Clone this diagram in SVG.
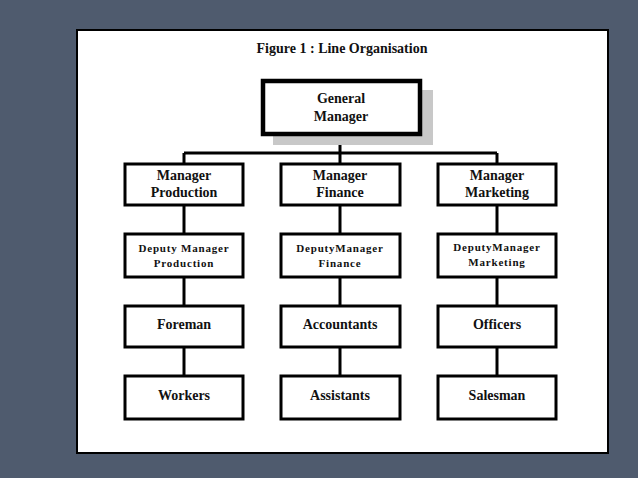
<svg xmlns="http://www.w3.org/2000/svg" width="638" height="478" viewBox="0 0 638 478">
<style>
.b{fill:#fff;stroke:#000;stroke-width:3}
.t{font-family:"Liberation Serif",serif;font-weight:bold;fill:#111;text-anchor:middle;font-size:14px}
.s{font-size:11px;letter-spacing:0.8px}
.c line{stroke:#000;stroke-width:3}
</style>
<rect width="638" height="478" fill="#4f5b6e"/>
<rect x="77" y="30" width="531" height="423" fill="#fff" stroke="#000" stroke-width="2"/>
<text class="t" x="342" y="53" font-size="14">Figure 1 : Line Organisation</text>
<g class="c">
<line x1="340" y1="134" x2="340" y2="375"/>
<line x1="184" y1="153" x2="497" y2="153"/>
<line x1="184" y1="153" x2="184" y2="375"/>
<line x1="497" y1="153" x2="497" y2="375"/>
</g>
<g id="gm"><rect x="273" y="90" width="160" height="55" fill="#c8c8c8"/><rect x="263" y="81" width="157" height="53" fill="#fff" stroke="#000" stroke-width="4.5"/><text class="t" x="341" y="103">General</text><text class="t" x="341" y="121">Manager</text></g>
<g id="mp"><rect class="b" x="125" y="164" width="118" height="41"/><text class="t" x="184" y="180">Manager</text><text class="t" x="184" y="197">Production</text></g>
<g id="mf"><rect class="b" x="281" y="164" width="119" height="41"/><text class="t" x="340" y="180">Manager</text><text class="t" x="340" y="197">Finance</text></g>
<g id="mm"><rect class="b" x="438" y="164" width="118" height="41"/><text class="t" x="497" y="180">Manager</text><text class="t" x="497" y="197">Marketing</text></g>
<g id="dp"><rect class="b" x="125" y="234" width="118" height="43"/><text class="t s" x="184" y="252">Deputy Manager</text><text class="t s" x="184" y="267">Production</text></g>
<g id="df"><rect class="b" x="281" y="234" width="119" height="43"/><text class="t s" x="340" y="252">DeputyManager</text><text class="t s" x="340" y="267">Finance</text></g>
<g id="dm"><rect class="b" x="438" y="234" width="118" height="43"/><text class="t s" x="497" y="251">DeputyManager</text><text class="t s" x="497" y="266">Marketing</text></g>
<g id="fo"><rect class="b" x="125" y="306" width="118" height="41"/><text class="t" x="184" y="329">Foreman</text></g>
<g id="ac"><rect class="b" x="281" y="306" width="119" height="41"/><text class="t" x="340" y="329">Accountants</text></g>
<g id="of"><rect class="b" x="438" y="306" width="118" height="41"/><text class="t" x="497" y="329">Officers</text></g>
<g id="wo"><rect class="b" x="125" y="376" width="118" height="43"/><text class="t" x="184" y="400">Workers</text></g>
<g id="as"><rect class="b" x="281" y="376" width="119" height="43"/><text class="t" x="340" y="400">Assistants</text></g>
<g id="sa"><rect class="b" x="438" y="376" width="118" height="43"/><text class="t" x="497" y="400">Salesman</text></g>
</svg>
